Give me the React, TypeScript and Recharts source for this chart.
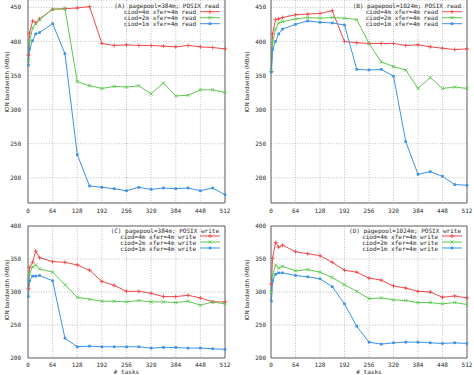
import React from 'react';
import { LineChart, Line, XAxis, YAxis, CartesianGrid, ReferenceLine } from 'recharts';

const tasks = [1, 4, 12, 20, 30, 64, 96, 128, 160, 192, 224, 256, 288, 320, 352, 384, 416, 448, 480, 512];
const xTicks = [0, 64, 128, 192, 256, 320, 384, 448, 512];
const readTicks = [200, 250, 300, 350, 400, 450];
const writeTicks = [200, 250, 300, 350, 400];

const ciodNames = ['ciod=4m', 'ciod=2m', 'ciod=1m'];
const colors = ['#f04a4a', '#5ec850', '#3d92e8'];

const aRed = [380, 412, 430, 427, 433, 447, 448, 449, 451, 397, 394, 395, 394, 394, 393, 392, 394, 392, 391, 389];
const aGreen = [372, 400, 420, 426, 432, 447, 448, 341, 335, 331, 334, 333, 335, 323, 339, 320, 321, 329, 329, 325];
const aBlue = [365, 389, 401, 411, 413, 426, 382, 234, 188, 186, 184, 181, 186, 183, 185, 184, 185, 181, 185, 175];

const bRed = [356, 411, 432, 433, 435, 439, 440, 441, 445, 400, 398, 397, 397, 397, 394, 395, 392, 390, 388, 389];
const bGreen = [358, 398, 418, 427, 429, 433, 435, 434, 435, 434, 432, 397, 370, 363, 358, 331, 347, 331, 333, 331];
const bBlue = [355, 388, 400, 411, 418, 425, 430, 428, 427, 424, 359, 358, 359, 349, 253, 205, 209, 202, 190, 189];

const cRed = [305, 337, 345, 362, 352, 346, 345, 341, 333, 316, 310, 301, 301, 298, 293, 293, 295, 291, 285, 285];
const cGreen = [316, 328, 338, 341, 335, 330, 311, 292, 289, 286, 286, 285, 287, 285, 285, 284, 286, 280, 285, 282];
const cBlue = [293, 317, 324, 324, 325, 317, 230, 217, 218, 217, 217, 217, 217, 215, 216, 216, 215, 215, 214, 213];

const dRed = [312, 351, 375, 368, 371, 361, 358, 355, 345, 333, 330, 321, 318, 309, 306, 301, 300, 292, 294, 291];
const dGreen = [300, 326, 341, 336, 339, 332, 334, 330, 322, 311, 301, 290, 291, 288, 287, 284, 284, 282, 284, 281];
const dBlue = [286, 317, 327, 329, 329, 325, 323, 320, 308, 282, 248, 224, 221, 223, 224, 224, 223, 222, 223, 222];

const mono = 'DejaVu Sans Mono, Liberation Mono, monospace';
const textFill = '#2a2a2a';

function buildRows(s0: number[], s1: number[], s2: number[]) {
  return tasks.map((t, i) => ({ tasks: t, s0: s0[i], s1: s1[i], s2: s2[i] }));
}

function markerShape(kind: number, cx: number, cy: number, color: string, key?: any) {
  if (kind === 0) {
    return <path key={key} d={`M${cx - 2},${cy}h4M${cx},${cy - 2}v4`} stroke={color} strokeWidth={0.9} fill="none" />;
  }
  if (kind === 1) {
    return <path key={key} d={`M${cx - 1.6},${cy - 1.6}l3.2,3.2M${cx - 1.6},${cy + 1.6}l3.2,-3.2`} stroke={color} strokeWidth={0.9} fill="none" />;
  }
  return <rect key={key} x={cx - 1.3} y={cy - 1.3} width={2.6} height={2.6} fill={color} />;
}

function makeDot(kind: number) {
  return (p: any) => {
    if (p.cx == null || p.cy == null) return <g key={p.key ?? p.index} />;
    return markerShape(kind, p.cx, p.cy, colors[kind], p.key ?? p.index);
  };
}

type PanelCfg = {
  left: number; top: number; width: number; height: number;
  mTop: number; mRight: number; yWidth: number; xHeight: number;
  domain: [number, number]; yTicks: number[]; yMargin: number; xMargin: number;
  rows: any[]; showXLabel: boolean; boxTop: boolean;
};

function Panel({ cfg }: { cfg: PanelCfg }) {
  return (
    <div style={{ position: 'absolute', left: cfg.left, top: cfg.top }}>
      <LineChart width={cfg.width} height={cfg.height} data={cfg.rows}
        margin={{ top: cfg.mTop, right: cfg.mRight, bottom: 0, left: 0 }}>
        <CartesianGrid stroke="#b0b0b0" strokeDasharray="1 1.6" strokeWidth={0.8} />
        <XAxis dataKey="tasks" type="number" domain={[0, 512]} ticks={xTicks} height={cfg.xHeight}
          tickLine={false} tickSize={0} tickMargin={cfg.xMargin} interval={0}
          axisLine={{ stroke: '#666' }}
          tick={{ fontSize: 6, fontFamily: mono, fill: textFill }}
          label={cfg.showXLabel ? { value: '# tasks', position: 'insideBottom', offset: 1, fontSize: 6, fontFamily: mono, fill: textFill } : undefined} />
        <YAxis type="number" domain={cfg.domain} ticks={cfg.yTicks} width={cfg.yWidth} allowDataOverflow
          tickLine={false} tickSize={0} tickMargin={cfg.yMargin} interval={0}
          axisLine={{ stroke: '#666' }}
          tick={{ fontSize: 6, fontFamily: mono, fill: textFill }} />
        <ReferenceLine x={512} stroke="#666" />
        {cfg.boxTop && <ReferenceLine y={cfg.domain[1]} stroke="#666" />}
        {[0, 1, 2].map((k) => (
          <Line key={k} dataKey={`s${k}`} stroke={colors[k]} strokeWidth={1} dot={makeDot(k)}
            activeDot={false} isAnimationActive={false} type="linear" />
        ))}
      </LineChart>
    </div>
  );
}

const panels: { cfg: PanelCfg; title: string; mode: string; titleY: number; yLabelY: number; yLabelX: number }[] = [
  {
    cfg: { left: 0, top: 0, width: 237, height: 225, mTop: 0, mRight: 12, yWidth: 28, xHeight: 22,
      domain: [163, 460.7], yTicks: readTicks, yMargin: 7, xMargin: 6, rows: buildRows(aRed, aGreen, aBlue), showXLabel: false, boxTop: false },
    title: '(A) pagepool=384m; POSIX read', mode: 'read', titleY: 5.7, yLabelY: 82, yLabelX: 6.5,
  },
  {
    cfg: { left: 237, top: 0, width: 237, height: 225, mTop: 0, mRight: 7, yWidth: 34, xHeight: 22,
      domain: [163, 460.7], yTicks: readTicks, yMargin: 5, xMargin: 6, rows: buildRows(bRed, bGreen, bBlue), showXLabel: false, boxTop: false },
    title: '(B) pagepool=1024m; POSIX read', mode: 'read', titleY: 5.7, yLabelY: 82, yLabelX: 247,
  },
  {
    cfg: { left: 0, top: 210, width: 237, height: 165, mTop: 16, mRight: 12, yWidth: 28, xHeight: 17,
      domain: [200, 400], yTicks: writeTicks, yMargin: 7, xMargin: 5, rows: buildRows(cRed, cGreen, cBlue), showXLabel: true, boxTop: true },
    title: '(C) pagepool=384m; POSIX write', mode: 'write', titleY: 230, yLabelY: 290, yLabelX: 6.5,
  },
  {
    cfg: { left: 237, top: 210, width: 237, height: 165, mTop: 16, mRight: 7, yWidth: 34, xHeight: 17,
      domain: [200, 400], yTicks: writeTicks, yMargin: 5, xMargin: 5, rows: buildRows(dRed, dGreen, dBlue), showXLabel: true, boxTop: true },
    title: '(D) pagepool=1024m; POSIX write', mode: 'write', titleY: 230, yLabelY: 290, yLabelX: 247,
  },
];

function Overlay() {
  return (
    <svg width={474} height={375} style={{ position: 'absolute', left: 0, top: 0, pointerEvents: 'none' }}>
      {panels.map((p, pi) => {
        const R = p.cfg.left + p.cfg.width - p.cfg.mRight;
        return (
          <g key={pi}>
            <text x={R - 6} y={p.titleY} textAnchor="end" dominantBaseline="central" fontSize={6} fontFamily={mono} fill={textFill}>{p.title}</text>
            {ciodNames.map((n, k) => {
              const y = p.titleY + 6 * (k + 1);
              const x1 = R - 25;
              const x2 = R - 5;
              return (
                <g key={k}>
                  <text x={R - 29} y={y} textAnchor="end" dominantBaseline="central" fontSize={6} fontFamily={mono} fill={textFill}>{`${n} xfer=4m ${p.mode}`}</text>
                  <line x1={x1} x2={x2} y1={y} y2={y} stroke={colors[k]} strokeWidth={1} />
                  {markerShape(k, (x1 + x2) / 2, y, colors[k])}
                </g>
              );
            })}
            <text x={p.yLabelX} y={p.yLabelY} textAnchor="middle" dominantBaseline="central" fontSize={5.6}
              fontFamily="DejaVu Sans, sans-serif" fill={textFill} transform={`rotate(-90 ${p.yLabelX} ${p.yLabelY})`}>ION bandwidth (MB/s)</text>
          </g>
        );
      })}
    </svg>
  );
}

export default function App() {
  return (
    <div style={{ position: 'absolute', left: 0, top: 0, width: 474, height: 375, background: '#fff', overflow: 'hidden' }}>
      {panels.map((p, i) => <Panel key={i} cfg={p.cfg} />)}
      <Overlay />
    </div>
  );
}
